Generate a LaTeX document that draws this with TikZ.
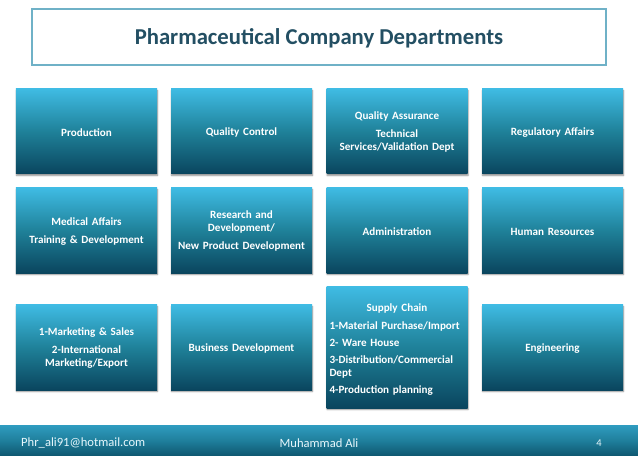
\documentclass[tikz,border=0pt]{standalone}
\usepackage{fontspec}
\setmainfont{Carlito}
\usetikzlibrary{shadows.blur}
\definecolor{boxtop}{HTML}{3FBBE3}
\definecolor{boxmid}{HTML}{1F8199}
\definecolor{boxbot}{HTML}{0A455E}
\definecolor{titlecol}{HTML}{234F63}
\definecolor{titleline}{HTML}{6FB1C7}
\definecolor{foottop}{HTML}{2F9CC0}
\definecolor{footmid}{HTML}{1F7F9C}
\definecolor{footbot}{HTML}{0E566F}
\tikzset{
  x=1bp,y=-1bp,
  deptbox/.style={rectangle,inner sep=3bp,align=center,text=white,
    top color=boxtop,bottom color=boxbot,middle color=boxmid,draw=none,
    font=\fontsize{11.1bp}{13bp}\selectfont\bfseries,
    minimum width=141bp,minimum height=85bp,text width=135bp,
    execute at begin node={\rule{0pt}{9.5bp}},
    blur shadow={shadow xshift=.5bp,shadow yshift=-1.5bp,shadow blur radius=1.5bp,shadow opacity=45}},
  supplybox/.style={deptbox,align=left,minimum height=121bp},
  titlebox/.style={rectangle,draw=titleline,line width=2bp,fill=white,minimum width=574bp,minimum height=56bp,
    text height=18.4bp,text depth=5bp,
    text=titlecol,font=\fontsize{22.7bp}{26bp}\selectfont\bfseries},
  footbar/.style={rectangle,inner sep=0pt,minimum width=638bp,minimum height=31bp,
    top color=foottop,bottom color=footbot,middle color=footmid},
  foottext/.style={text=white!88!boxtop,inner sep=0pt,font=\fontsize{12.6bp}{15bp}\selectfont},
}
\newcommand{\gapline}{\\[5bp]}
\begin{document}
\begin{tikzpicture}
\useasboundingbox (0,0) rectangle (638,456);
\node[titlebox] (title) at (319,37.5) {Pharmaceutical Company Departments};
\node[deptbox] (prod) at (86.5,131.5) {Production};
\node[deptbox] (qc) at (241.5,131.5) {Quality Control};
\node[deptbox] (qa) at (397,131.5) {Quality Assurance\gapline Technical\\Services/Validation Dept};
\node[deptbox] (reg) at (552.5,131.5) {Regulatory Affairs};
\node[deptbox] (med) at (86.5,230.5) {Medical Affairs\gapline Training \& Development};
\node[deptbox] (rnd) at (241.5,230.5) {Research and\\Development/\gapline New Product Development};
\node[deptbox] (adm) at (397,230.5) {Administration};
\node[deptbox] (hr) at (552.5,230.5) {Human Resources};
\node[deptbox] (mkt) at (86.5,347.5) {1-Marketing \& Sales\gapline 2-International\\Marketing/Export};
\node[deptbox] (bd) at (241.5,347.5) {Business Development};
\node[supplybox] (sc) at (397,347.5) {\rule{0pt}{12bp}\makebox[\linewidth][c]{Supply Chain}\\[5bp]1-Material Purchase/Import\\[4bp]2- Ware House\\[4bp]3-Distribution/Commercial\\Dept\\[4bp]4-Production planning};
\node[deptbox] (eng) at (552.5,347.5) {Engineering};
\node[footbar] (foot) at (319,440.5) {};
\node[foottext,anchor=west] (mail) at (21,443) {Phr\_ali91@hotmail.com};
\node[foottext] (name) at (319,443) {Muhammad Ali};
\node[foottext,font=\fontsize{10.5bp}{12bp}\selectfont] (num) at (599,443.5) {4};
\end{tikzpicture}
\end{document}
